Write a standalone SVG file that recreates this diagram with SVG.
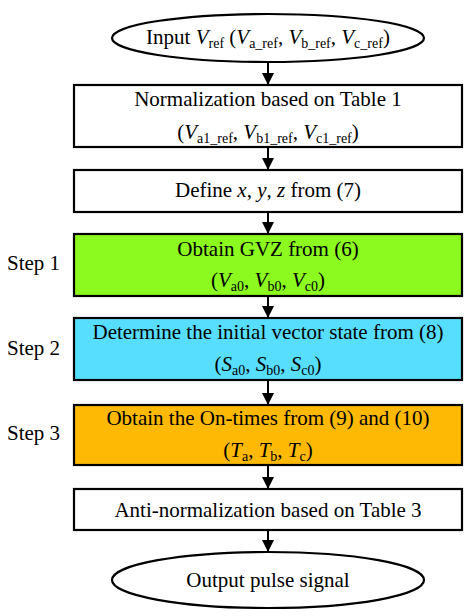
<svg xmlns="http://www.w3.org/2000/svg" width="474" height="616" viewBox="0 0 474 616">
<defs>
<marker id="arr" viewBox="0 0 12 12" refX="12" refY="6" markerWidth="12" markerHeight="12" markerUnits="userSpaceOnUse" orient="auto">
<path d="M0,0 L12,6 L0,12 Z" fill="#000"/>
</marker>
</defs>
<style>
.box{stroke:#000;stroke-width:2.2}
.t{font-family:"Liberation Serif","Times New Roman",serif;font-size:21px;fill:#000;text-anchor:middle}
.s{font-family:"Liberation Serif","Times New Roman",serif;font-size:21px;fill:#000}
.i{font-style:italic}
.sub{font-size:14px}
.c{stroke:#000;stroke-width:2;fill:none}
</style>
<rect width="474" height="616" fill="#fff"/>
<g id="connectors">
<line class="c" x1="268" y1="62" x2="268" y2="85" marker-end="url(#arr)"/>
<line class="c" x1="268" y1="147" x2="268" y2="170" marker-end="url(#arr)"/>
<line class="c" x1="268" y1="212" x2="268" y2="234" marker-end="url(#arr)"/>
<line class="c" x1="268" y1="296" x2="268" y2="318" marker-end="url(#arr)"/>
<line class="c" x1="268" y1="380" x2="268" y2="405" marker-end="url(#arr)"/>
<line class="c" x1="268" y1="465" x2="268" y2="489" marker-end="url(#arr)"/>
<line class="c" x1="268" y1="530" x2="268" y2="552" marker-end="url(#arr)"/>
</g>
<g id="input">
<ellipse class="box" cx="268" cy="38" rx="156" ry="24" fill="#fff"/>
<text class="t" x="268" y="44">Input <tspan class="i">V</tspan><tspan class="sub" dy="4">ref</tspan><tspan dy="-4"> (</tspan><tspan class="i">V</tspan><tspan class="sub" dy="4">a_ref</tspan><tspan dy="-4">, </tspan><tspan class="i">V</tspan><tspan class="sub" dy="4">b_ref</tspan><tspan dy="-4">, </tspan><tspan class="i">V</tspan><tspan class="sub" dy="4">c_ref</tspan><tspan dy="-4">)</tspan></text>
</g>
<g id="normalization">
<rect class="box" x="74" y="85" width="388" height="62" fill="#fff"/>
<text class="t" x="268" y="106">Normalization based on Table 1</text>
<text class="t" x="268" y="139">(<tspan class="i">V</tspan><tspan class="sub" dy="4">a1_ref</tspan><tspan dy="-4">, </tspan><tspan class="i">V</tspan><tspan class="sub" dy="4">b1_ref</tspan><tspan dy="-4">, </tspan><tspan class="i">V</tspan><tspan class="sub" dy="4">c1_ref</tspan><tspan dy="-4">)</tspan></text>
</g>
<g id="define">
<rect class="box" x="74" y="170" width="388" height="42" fill="#fff"/>
<text class="t" x="268" y="197">Define <tspan class="i">x</tspan>, <tspan class="i">y</tspan>, <tspan class="i">z</tspan> from (7)</text>
</g>
<g id="step1">
<rect class="box" x="74" y="234" width="388" height="62" fill="#8cf91f"/>
<text class="t" x="268" y="256">Obtain GVZ from (6)</text>
<text class="t" x="268" y="287">(<tspan class="i">V</tspan><tspan class="sub" dy="4">a0</tspan><tspan dy="-4">, </tspan><tspan class="i">V</tspan><tspan class="sub" dy="4">b0</tspan><tspan dy="-4">, </tspan><tspan class="i">V</tspan><tspan class="sub" dy="4">c0</tspan><tspan dy="-4">)</tspan></text>
<text class="s" x="7" y="270">Step 1</text>
</g>
<g id="step2">
<rect class="box" x="74" y="318" width="388" height="62" fill="#57defe"/>
<text class="t" x="268" y="339">Determine the initial vector state from (8)</text>
<text class="t" x="268" y="371">(<tspan class="i">S</tspan><tspan class="sub" dy="4">a0</tspan><tspan dy="-4">, </tspan><tspan class="i">S</tspan><tspan class="sub" dy="4">b0</tspan><tspan dy="-4">, </tspan><tspan class="i">S</tspan><tspan class="sub" dy="4">c0</tspan><tspan dy="-4">)</tspan></text>
<text class="s" x="7" y="355">Step 2</text>
</g>
<g id="step3">
<rect class="box" x="74" y="405" width="388" height="60" fill="#fdb904"/>
<text class="t" x="268" y="425">Obtain the On-times from (9) and (10)</text>
<text class="t" x="268" y="457">(<tspan class="i">T</tspan><tspan class="sub" dy="4">a</tspan><tspan dy="-4">, </tspan><tspan class="i">T</tspan><tspan class="sub" dy="4">b</tspan><tspan dy="-4">, </tspan><tspan class="i">T</tspan><tspan class="sub" dy="4">c</tspan><tspan dy="-4">)</tspan></text>
<text class="s" x="7" y="440">Step 3</text>
</g>
<g id="antinormalization">
<rect class="box" x="74" y="489" width="388" height="41" fill="#fff"/>
<text class="t" x="268" y="517">Anti-normalization based on Table 3</text>
</g>
<g id="output">
<ellipse class="box" cx="268" cy="580" rx="156" ry="28" fill="#fff"/>
<text class="t" x="268" y="587">Output pulse signal</text>
</g>
</svg>
